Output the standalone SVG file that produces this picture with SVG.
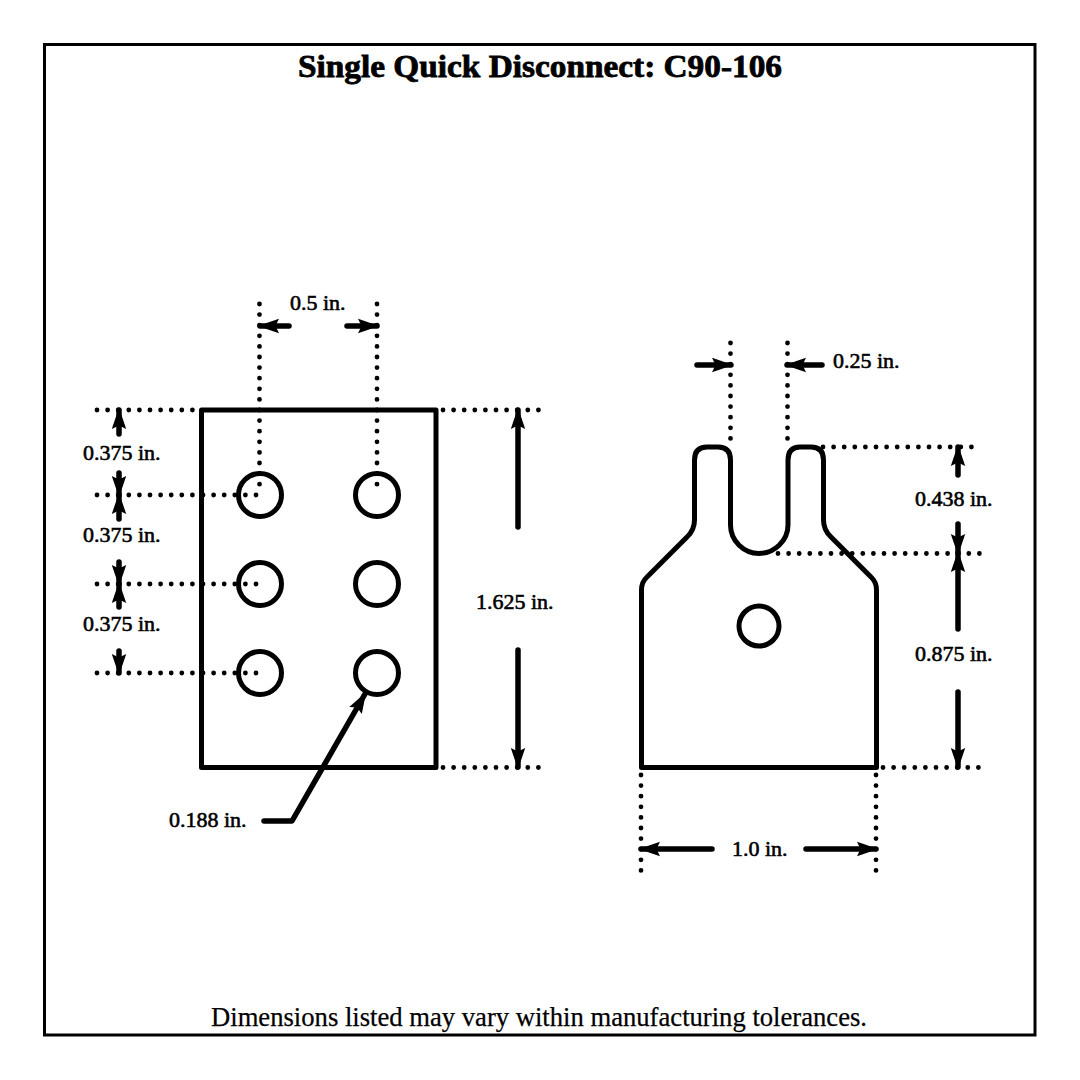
<svg xmlns="http://www.w3.org/2000/svg" width="1080" height="1080" viewBox="0 0 1080 1080">
<style>
text{font-family:"Liberation Serif","Times New Roman",serif;fill:#000;stroke:#000;stroke-width:.6px}
.l{font-size:22px;text-anchor:start}
.part{fill:none;stroke:#000;stroke-width:5;stroke-linejoin:round;stroke-linecap:round}
.dot{fill:none;stroke:#000;stroke-width:4.8;stroke-linecap:round;stroke-dasharray:0 10.6}
.ah{fill:none;stroke:#000;stroke-width:5.500;stroke-linecap:round;stroke-linejoin:round;marker-end:url(#a)}
</style>
<defs>
<marker id="a" markerUnits="userSpaceOnUse" orient="auto" markerWidth="26" markerHeight="18" refX="24" refY="9" viewBox="0 0 26 18" overflow="visible">
<path d="M25 9 L16 5.500 L5 1.800 L8.500 9 L5 16.200 L16 12.500 Z" fill="#000"/>
</marker>
</defs>
<rect width="1080" height="1080" fill="#fff"/>
<rect id="frame" x="44.500" y="44.500" width="990.500" height="990.500" fill="none" stroke="#000" stroke-width="3"/>
<g id="title"><text x="298" y="77" font-size="32" font-weight="bold" textLength="484" lengthAdjust="spacingAndGlyphs" style="stroke-width:.8px">Single Quick Disconnect: C90-106</text></g>
<g id="note"><text x="211" y="1026" font-size="28" textLength="656" lengthAdjust="spacingAndGlyphs" style="stroke-width:.25px">Dimensions listed may vary within manufacturing tolerances.</text></g>

<g id="plate">
<rect class="part" x="201.500" y="410" width="234.500" height="357.500"/>
</g>
<g id="holes">
<circle id="hole1" class="part" cx="260" cy="495" r="21.500"/>
<circle id="hole2" class="part" cx="377" cy="495" r="21.500"/>
<circle id="hole3" class="part" cx="260" cy="584" r="21.500"/>
<circle id="hole4" class="part" cx="377" cy="584" r="21.500"/>
<circle id="hole5" class="part" cx="260" cy="673" r="21.500"/>
<circle id="hole6" class="part" cx="377" cy="673" r="21.500"/>
</g>
<g id="tab">
<path class="part" d="M641.500 767.500 V590 Q641.500 582 647 577 L687 537 Q694.500 530 694.500 520 V460 Q694.500 447 707 447 H718 Q730.500 447 730.500 460 V525 C730.500 541 744 553.500 759 553.500 C774 553.500 788 541 788 525 V460 Q788 447 800 447 H811 Q823.500 447 823.500 460 V520 Q823.500 530 831 537 L871 577 Q876.500 582 876.500 590 V767.500 Z"/>
<circle id="tabhole" class="part" cx="759" cy="626" r="20"/>
</g>

<g id="connectors">
<path class="dot" d="M259.500 304 V494"/>
<path class="dot" d="M377 304 V494"/>
<path class="dot" d="M97 410 H200"/>
<path class="dot" d="M97 495 H258"/>
<path class="dot" d="M97 584 H258"/>
<path class="dot" d="M97 673 H258"/>
<path class="dot" d="M443 410 H540"/>
<path class="dot" d="M443 767.500 H540"/>
<path class="dot" d="M730.500 343 V440"/>
<path class="dot" d="M787.500 343 V440"/>
<path class="dot" d="M823 447 H982"/>
<path class="dot" d="M778 553.500 H982"/>
<path class="dot" d="M883 767.500 H982"/>
<path class="dot" d="M641 775 V872"/>
<path class="dot" d="M876 775 V872"/>

<path class="ah" d="M289 326 H260"/>
<path class="ah" d="M347 326 H377"/>
<path class="ah" d="M119 434 V410"/>
<path class="ah" d="M119 473 V495"/>
<path class="ah" d="M119 519 V495"/>
<path class="ah" d="M119 562 V584"/>
<path class="ah" d="M119 607 V584"/>
<path class="ah" d="M119 651 V673"/>
<path class="ah" d="M518 527 V410"/>
<path class="ah" d="M518 650 V767"/>
<path class="ah" d="M697 365 H731"/>
<path class="ah" d="M822 365 H787"/>
<path class="ah" d="M958 475 V447"/>
<path class="ah" d="M958 524 V553"/>
<path class="ah" d="M958 629 V553"/>
<path class="ah" d="M958 692 V767"/>
<path class="ah" d="M712 849 H641"/>
<path class="ah" d="M806 849 H876"/>
<path class="ah" d="M264 821 H292 L365 694"/>
</g>

<g id="labels">
<text class="l" x="290" y="310">0.5 in.</text>
<text class="l" x="833" y="368">0.25 in.</text>
<text class="l" x="83" y="460">0.375 in.</text>
<text class="l" x="83" y="542">0.375 in.</text>
<text class="l" x="83" y="631">0.375 in.</text>
<text class="l" x="476" y="609">1.625 in.</text>
<text class="l" x="915" y="506">0.438 in.</text>
<text class="l" x="915" y="661">0.875 in.</text>
<text class="l" x="732" y="856">1.0 in.</text>
<text class="l" x="169" y="827">0.188 in.</text>
</g>
</svg>
